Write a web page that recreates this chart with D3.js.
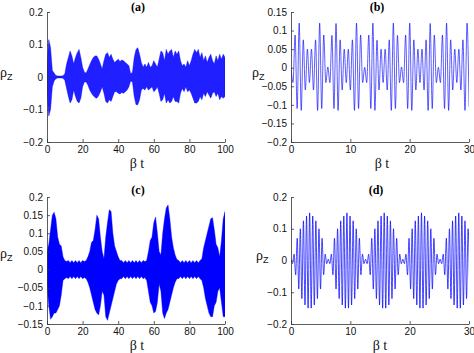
<!DOCTYPE html>
<html><head><meta charset="utf-8">
<script src="https://cdn.jsdelivr.net/npm/d3@7"></script>
<style>body{margin:0;background:#fff} svg{display:block}</style>
</head><body>
<script>
// ---------- tick labels ----------
const xTicksLong = [0, 20, 40, 60, 80, 100];
const xTicksShort = [0, 10, 20, 30];
const yTicksA = [0.2, 0.1, 0, -0.1, -0.2];
const yTicksB = [0.15, 0.1, 0.05, 0, -0.05, -0.1, -0.15, -0.2];
const yTicksC = [0.2, 0.15, 0.1, 0.05, 0, -0.05, -0.1, -0.15];
const yTicksD = [0.2, 0.1, 0, -0.1, -0.2];
const panelTitles = ["(a)", "(b)", "(c)", "(d)"];

// ---------- panel (a): envelope of rho_z, one sample per unit of beta t (0..100) ----------
const upperA = [0.04,0.115,0.09,0.02,0.012,0.005,0.003,0.003,0.003,0.004,
 0.01,0.04,0.06,0.08,0.065,0.04,0.06,0.075,0.085,0.06,
 0.03,0.015,0.012,0.025,0.038,0.05,0.06,0.065,0.065,0.055,
 0.04,0.025,0.05,0.07,0.075,0.06,0.07,0.055,0.045,0.05,
 0.055,0.048,0.052,0.05,0.045,0.04,0.035,0.01,0.015,0.06,
 0.085,0.09,0.07,0.045,0.03,0.04,0.03,0.045,0.03,0.035,
 0.05,0.04,0.03,0.055,0.08,0.075,0.05,0.085,0.07,0.08,
 0.085,0.06,0.08,0.07,0.08,0.05,0.035,0.04,0.03,0.05,
 0.035,0.05,0.07,0.085,0.075,0.085,0.06,0.075,0.05,0.065,
 0.045,0.06,0.07,0.05,0.04,0.065,0.05,0.07,0.055,0.07,0.06];
const lowerA = [-0.05,-0.12,-0.1,-0.03,-0.012,-0.005,-0.003,-0.003,-0.003,-0.004,
 -0.01,-0.035,-0.06,-0.08,-0.07,-0.04,-0.06,-0.075,-0.08,-0.065,
 -0.03,-0.015,-0.015,-0.025,-0.04,-0.05,-0.058,-0.063,-0.065,-0.058,
 -0.045,-0.03,-0.05,-0.075,-0.08,-0.07,-0.075,-0.06,-0.045,-0.045,
 -0.05,-0.052,-0.048,-0.05,-0.045,-0.04,-0.03,-0.012,-0.015,-0.06,
 -0.085,-0.085,-0.07,-0.04,-0.035,-0.04,-0.03,-0.04,-0.035,-0.03,
 -0.045,-0.04,-0.03,-0.05,-0.075,-0.07,-0.05,-0.08,-0.07,-0.08,
 -0.075,-0.06,-0.075,-0.075,-0.08,-0.05,-0.035,-0.045,-0.03,-0.045,
 -0.04,-0.05,-0.065,-0.08,-0.08,-0.075,-0.06,-0.07,-0.05,-0.06,
 -0.045,-0.055,-0.065,-0.05,-0.045,-0.06,-0.05,-0.07,-0.06,-0.065,-0.06];

// ---------- panel (c): envelope, one sample per unit of beta t (0..100) ----------
const upperC = [0.05,0.07,0.11,0.15,0.158,0.14,0.09,0.07,0.065,0.035,
 0.025,0.022,0.025,0.019,0.025,0.019,0.025,0.019,0.025,0.019,
 0.025,0.022,0.025,0.035,0.05,0.075,0.08,0.11,0.15,0.14,
 0.09,0.05,0.03,0.09,0.13,0.165,0.16,0.1,0.065,0.05,
 0.035,0.025,0.025,0.019,0.025,0.019,0.025,0.019,0.025,0.019,
 0.025,0.019,0.025,0.019,0.025,0.022,0.025,0.05,0.08,0.09,
 0.13,0.145,0.1,0.05,0.04,0.1,0.14,0.17,0.178,0.14,
 0.09,0.06,0.04,0.028,0.025,0.019,0.025,0.019,0.025,0.019,
 0.025,0.019,0.025,0.019,0.025,0.019,0.025,0.03,0.06,0.08,
 0.1,0.12,0.14,0.143,0.11,0.07,0.06,0.035,0.08,0.14,0.16];
const lowerC = [-0.04,-0.1,-0.137,-0.13,-0.12,-0.12,-0.11,-0.1,-0.07,-0.03,
 -0.025,-0.022,-0.025,-0.019,-0.025,-0.019,-0.025,-0.019,-0.025,-0.019,
 -0.025,-0.022,-0.025,-0.035,-0.05,-0.07,-0.09,-0.11,-0.12,-0.125,
 -0.1,-0.06,-0.07,-0.13,-0.14,-0.12,-0.1,-0.08,-0.06,-0.04,
 -0.03,-0.025,-0.025,-0.019,-0.025,-0.019,-0.025,-0.019,-0.025,-0.019,
 -0.025,-0.019,-0.025,-0.019,-0.025,-0.022,-0.03,-0.06,-0.09,-0.1,
 -0.12,-0.115,-0.09,-0.04,-0.06,-0.12,-0.135,-0.12,-0.11,-0.09,
 -0.07,-0.05,-0.035,-0.025,-0.025,-0.019,-0.025,-0.019,-0.025,-0.019,
 -0.025,-0.019,-0.025,-0.019,-0.025,-0.019,-0.025,-0.03,-0.05,-0.08,
 -0.1,-0.12,-0.13,-0.13,-0.1,-0.09,-0.06,-0.05,-0.09,-0.13,-0.13];

// ---------- panel (b): successive extrema of rho_z, spaced stepB in beta t ----------
const stepB = 0.345;
const extremaB = [
 0,-0.04,0.088,-0.11,0.12,-0.115,0.075,-0.06,0.05,-0.04,0.05,-0.06,0.075,-0.115,0.12,-0.11,0.088,-0.04,
 0.002,-0.04,0.087,-0.11,0.119,-0.115,0.075,-0.06,0.05,-0.04,0.05,-0.06,0.075,-0.115,0.12,-0.11,0.088,-0.04,
 0.001,-0.04,0.088,-0.11,0.12,-0.115,0.074,-0.06,0.05,-0.04,0.05,-0.06,0.075,-0.115,0.12,-0.11,0.087,-0.04,
 0.002,-0.04,0.088,-0.11,0.12,-0.115,0.075,-0.06,0.05,-0.04,0.05,-0.06,0.075,-0.115,0.119,-0.11,0.088,-0.04,
 0.001,-0.04,0.088,-0.11,0.12,-0.115,0.075,-0.06,0.05,-0.04,0.05,-0.06,0.075,-0.115,0.12,-0.105
];

// ---------- panel (d): successive extrema of rho_z, spaced stepD in beta t ----------
const stepD = 0.2618;
const extremaD = [
 0.004,-0.01,0.02,-0.045,0.07,-0.09,0.1,-0.12,0.125,-0.14,0.14,-0.15,0.15,-0.15,0.14,-0.14,0.125,-0.12,0.1,-0.09,0.07,-0.045,0.02,-0.01,
 0.004,-0.01,0.02,-0.045,0.07,-0.09,0.1,-0.12,0.125,-0.14,0.14,-0.15,0.15,-0.15,0.14,-0.14,0.125,-0.12,0.1,-0.09,0.07,-0.045,0.02,-0.01,
 0.004,-0.01,0.02,-0.045,0.07,-0.09,0.1,-0.12,0.125,-0.14,0.14,-0.15,0.15,-0.15,0.14,-0.14,0.125,-0.12,0.1,-0.09,0.07,-0.045,0.02,-0.01,
 0.004,-0.01,0.02,-0.045,0.07,-0.09,0.1,-0.12,0.125,-0.14,0.14,-0.15,0.15,-0.15,0.14,-0.14,0.125,-0.12,0.1,-0.09,0.07,-0.045,0.02,-0.01,
 0.004,-0.01,0.02,-0.045,0.07,-0.09,0.1,-0.12,0.125,-0.14,0.14,-0.15,0.15,-0.15,0.14,-0.14,0.125,-0.12,0.1,-0.09
];

// ---------- layout ----------
const W = 474, H = 353;
const svg = d3.select("body").append("svg").attr("width", W).attr("height", H);
const BLUE = "#0000ff";
const fmt = v => v === 0 ? "0" : String(v).replace("-", "\u2212");

const panels = [
 {key:"a", x0:47, x1:225, yT:12, yB:142, xDom:[0,100], yDom:[-0.2,0.2], xt:xTicksLong, yt:yTicksA,
  title:[138,11], rho:[0,77], bt:[137,168], kind:"env", up:upperA, lo:lowerA, op:0.88},
 {key:"b", x0:291, x1:469, yT:12, yB:142, xDom:[0,30], yDom:[-0.2,0.15], xt:xTicksShort, yt:yTicksB,
  title:[377,11], rho:[252,77], bt:[382,168], kind:"ext", vals:extremaB, step:stepB, sw:0.75},
 {key:"c", x0:47, x1:225, yT:197, yB:324, xDom:[0,100], yDom:[-0.15,0.2], xt:xTicksLong, yt:yTicksC,
  title:[138,194], rho:[0,258], bt:[137,350], kind:"env", up:upperC, lo:lowerC, op:1},
 {key:"d", x0:291, x1:469, yT:197, yB:324, xDom:[0,30], yDom:[-0.2,0.2], xt:xTicksShort, yt:yTicksD,
  title:[376,194], rho:[256,260], bt:[380,350], kind:"ext", vals:extremaD, step:stepD, sw:0.85}
];

panels.forEach((p, i) => {
  const x = d3.scaleLinear().domain(p.xDom).range([p.x0, p.x1]);
  const y = d3.scaleLinear().domain(p.yDom).range([p.yB, p.yT]);
  const g = svg.append("g");

  svg.append("clipPath").attr("id", "clip" + p.key)
    .append("rect").attr("x", p.x0).attr("y", p.yT - 1).attr("width", p.x1 - p.x0).attr("height", p.yB - p.yT + 2);

  if (p.kind === "env") {
    const pts = p.up.map((u, t) => ({t, u, l: p.lo[t]}));
    const area = d3.area().x(d => x(d.t)).y0(d => y(d.l)).y1(d => y(d.u));
    g.append("path").attr("d", area(pts)).attr("fill", BLUE).attr("fill-opacity", p.op)
      .attr("stroke", BLUE).attr("stroke-width", 0.4).attr("clip-path", `url(#clip${p.key})`);
  } else {
    const pts = p.vals.map((v, k) => ({t: k * p.step, v}));
    const line = d3.line().x(d => x(d.t)).y(d => y(d.v)).curve(d3.curveMonotoneX);
    g.append("path").attr("d", line(pts)).attr("fill", "none").attr("stroke", BLUE)
      .attr("stroke-width", p.sw).attr("stroke-opacity", 0.85).attr("clip-path", `url(#clip${p.key})`);
  }

  const ax = g.append("g").attr("transform", `translate(0,${p.yB})`)
    .call(d3.axisBottom(x).tickValues(p.xt).tickFormat(fmt).tickSizeInner(-3).tickSizeOuter(0).tickPadding(4));
  const ay = g.append("g").attr("transform", `translate(${p.x0},0)`)
    .call(d3.axisLeft(y).tickValues(p.yt).tickFormat(fmt).tickSizeInner(-3).tickSizeOuter(0).tickPadding(4));
  [ax, ay].forEach(a => {
    a.selectAll("path,line").attr("stroke", "#333").attr("stroke-width", 0.8);
    a.selectAll("text").attr("font-family", "'Liberation Sans', Arial, sans-serif").attr("font-size", 10).attr("fill", "#111");
  });

  g.append("text").attr("x", p.title[0]).attr("y", p.title[1]).attr("text-anchor", "middle")
    .attr("font-family", "'Liberation Serif', 'Times New Roman', serif").attr("font-weight", "bold")
    .attr("font-size", 12).text(panelTitles[i]);

  const rt = g.append("text").attr("x", p.rho[0]).attr("y", p.rho[1])
    .attr("font-family", "'Liberation Serif', 'Times New Roman', serif").attr("font-size", 14).attr("fill", "#111");
  rt.append("tspan").text("ρ");
  rt.append("tspan").attr("dy", 3).attr("font-family", "'Liberation Sans', Arial, sans-serif").attr("font-size", 9).text("Z");

  g.append("text").attr("x", p.bt[0]).attr("y", p.bt[1]).attr("text-anchor", "middle")
    .attr("font-family", "'Liberation Serif', 'Times New Roman', serif").attr("font-size", 14).attr("fill", "#111")
    .text("β t");
});
</script>
</body></html>
